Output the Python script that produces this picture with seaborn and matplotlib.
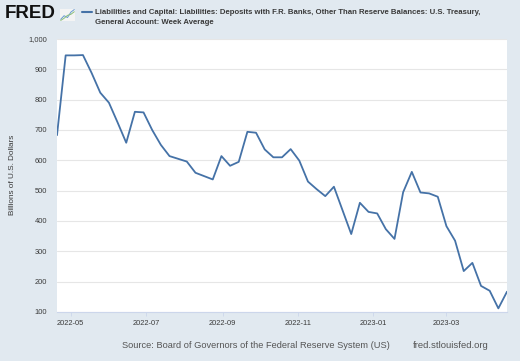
import numpy as np
import pandas as pd
import matplotlib
matplotlib.use("Agg")
import matplotlib.pyplot as plt
import matplotlib.dates as mdates
import matplotlib.ticker as mticker
import seaborn as sns

# Weekly averages, billions of U.S. dollars
start_date = "2022-04-20"
tga_values = [
    683, 946, 946, 947, 888, 823, 790, 725, 658, 760,
    758, 700, 651, 614, 605, 596, 559, 548, 537, 614,
    582, 595, 694, 691, 636, 610, 610, 637, 599, 530,
    505, 482, 513, 435, 357, 460, 430, 425, 373, 341,
    495, 562, 494, 491, 480, 383, 335, 235, 262, 186,
    170, 112, 167,
]
y_ticks = [100, 200, 300, 400, 500, 600, 700, 800, 900, 1000]
x_tick_dates = ["2022-05-01", "2022-07-01", "2022-09-01", "2022-11-01",
                "2023-01-01", "2023-03-01"]
series_title = ["Liabilities and Capital: Liabilities: Deposits with F.R. Banks, "
                "Other Than Reserve Balances: U.S. Treasury,",
                "General Account: Week Average"]
y_label = "Billions of U.S. Dollars"
source_text = "Source: Board of Governors of the Federal Reserve System (US)"
site_text = "fred.stlouisfed.org"

dates = pd.date_range(start_date, periods=len(tga_values), freq="W-WED")
df = pd.DataFrame({"date": dates, "value": tga_values})

sns.set_theme(style="white")
plt.rcParams["font.family"] = ["Liberation Sans", "DejaVu Sans"]

BG = "#e1e9f0"
LINE = "#4572a7"
TXT = "#3a3a3a"

W, H = 520, 361
fig = plt.figure(figsize=(W / 100, H / 100), dpi=100)
fig.patch.set_facecolor(BG)

ax = fig.add_axes([57 / W, 1 - 312 / H, 450 / W, 273 / H])
ax.set_facecolor("white")

sns.lineplot(data=df, x="date", y="value", ax=ax, color=LINE, linewidth=1.3)

ax.set_xlim(dates[0], dates[-1])
ax.set_ylim(100, 1000)
ax.set_yticks(y_ticks)
ax.yaxis.set_major_formatter(mticker.FuncFormatter(lambda v, p: f"{int(v):,}"))
ax.set_xticks(pd.to_datetime(x_tick_dates))
ax.xaxis.set_major_formatter(mdates.DateFormatter("%Y-%m"))

ax.grid(axis="y", color="#e6e6e6", linewidth=0.8)
ax.grid(axis="x", visible=False)
for side in ["top", "right", "left"]:
    ax.spines[side].set_visible(False)
ax.spines["bottom"].set_color("#ccd6eb")
ax.spines["bottom"].set_linewidth(0.8)

ax.tick_params(axis="y", length=0, labelsize=5.4, labelcolor=TXT, pad=7)
ax.tick_params(axis="x", length=3, width=0.6, color="#ccd6eb",
               labelsize=5.4, labelcolor=TXT, pad=3, direction="out", bottom=True)

ax.set_xlabel("")
ax.set_ylabel("")
fig.text(13 / W, 1 - 175 / H, y_label, fontsize=5.9, color=TXT,
         rotation=90, va="center", ha="center")

# header: FRED logo and series name
fig.text(5 / W, 1 - 14 / H, "FRED", fontsize=13.5, fontweight="bold",
         color="#111111", va="center", ha="left")
icon = fig.add_axes([60 / W, 1 - 21 / H, 15 / W, 12 / H])
icon.set_facecolor("#f4f4f4")
icon.plot([0, 1, 2, 3, 4], [0.5, 1.5, 1.0, 2.5, 3.2], color="#6a9bd1", lw=0.7)
icon.plot([0, 1, 2, 3, 4], [0.2, 0.8, 1.6, 1.9, 2.6], color="#8cc07a", lw=0.7)
icon.set_xticks([])
icon.set_yticks([])
for s in icon.spines.values():
    s.set_visible(False)

fig.add_artist(plt.Line2D([82 / W, 92 / W], [1 - 12 / H, 1 - 12 / H],
                          color=LINE, linewidth=1.5))
fig.text(95 / W, 1 - 12 / H, series_title[0], fontsize=5.55, fontweight="bold",
         color=TXT, va="center", ha="left")
fig.text(95 / W, 1 - 23 / H, series_title[1], fontsize=5.55, fontweight="bold",
         color=TXT, va="center", ha="left")

# footer
fig.text(122 / W, 1 - 345 / H, source_text, fontsize=6.7, color="#555555",
         va="center", ha="left")
fig.text(413 / W, 1 - 345 / H, site_text, fontsize=6.8, color="#555555",
         va="center", ha="left")

fig.savefig("out.png", dpi=100, facecolor=BG)
